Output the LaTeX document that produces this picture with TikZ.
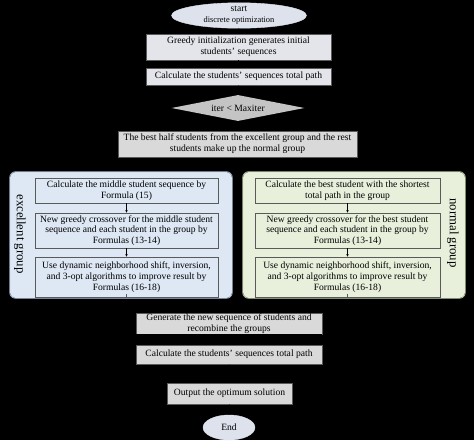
\documentclass[tikz,border=0pt]{standalone}
\usepackage{fontspec}
\setmainfont{Liberation Serif}
\usetikzlibrary{shapes.geometric,arrows.meta}
\definecolor{ellfill}{HTML}{DDE2EC}
\definecolor{topfill}{HTML}{E3E5EA}
\definecolor{diafill}{HTML}{C4C4C4}
\definecolor{grayfill}{HTML}{D9D9D9}
\definecolor{bluefill}{HTML}{DDE8F4}
\definecolor{greenfill}{HTML}{E8F0DC}
\definecolor{blueline}{HTML}{A9BCD6}
\definecolor{greenline}{HTML}{B9C9A0}
\definecolor{boxline}{HTML}{5A5A5A}
\tikzset{
  txt/.style={font=\fontsize{9.6}{10.8}\selectfont, align=center, text=black},
  flowbox/.style={txt, draw=boxline, line width=0.7pt, inner sep=0pt, rectangle},
  topbox/.style={flowbox, fill=topfill},
  graybox/.style={flowbox, fill=grayfill},
  ellnode/.style={txt, ellipse, fill=ellfill, draw=ellfill, inner sep=0pt},
  group/.style={rounded corners=6pt, line width=0.7pt, inner sep=0pt, rectangle},
  innerbox/.style={flowbox},
  grouplabel/.style={font=\fontsize{12.8}{14}\selectfont, text=black, rotate=-90},
  conn/.style={draw=black, line width=0.6pt, -{Stealth[length=3pt,width=2.6pt]}},
  inconn/.style={draw=black, line width=0.5pt, -{Stealth[length=2.6pt,width=2.4pt]}},
  dline/.style={draw=boxline, line width=0.5pt}
}
\begin{document}
\begin{tikzpicture}[x=1pt,y=-1pt]
\fill[black] (0,0) rectangle (474,440);
\useasboundingbox (0,0) rectangle (474,440);

% top flow
\node[ellnode, minimum width=135pt, minimum height=25pt] (start) at (239,15.5)
  {start\\[0pt]{\fontsize{8.4}{9}\selectfont discrete optimization}};
\node[topbox, minimum width=185pt, minimum height=26pt] (greedy) at (238.5,47)
  {Greedy initialization generates initial\\students' sequences};
\node[topbox, minimum width=185pt, minimum height=17pt] (calc1) at (238.5,76.5)
  {Calculate the students' sequences total path};
\node[txt, diamond, aspect=5.1, fill=diafill, inner sep=0pt, minimum width=133pt, minimum height=26pt] (dia) at (238,108)
  {iter < Maxiter};
\node[graybox, minimum width=239pt, minimum height=26pt] (best) at (237.5,144)
  {The best half students from the excellent group and the rest\\students make up the normal group};

% groups
\node[group, fill=bluefill, minimum width=222pt, minimum height=126pt] (lgrp) at (121,235) {};
\node[group, fill=greenfill, minimum width=222pt, minimum height=126pt] (rgrp) at (354,235) {};

\node[grouplabel] (llab) at (20,234) {excellent group};
\node[grouplabel] (rlab) at (453,233) {normal group};

\node[innerbox, fill=bluefill, minimum width=183pt, minimum height=25pt] (lb1) at (126.5,190.5)
  {Calculate the middle student sequence by\\Formula (15)};
\node[innerbox, fill=bluefill, minimum width=183pt, minimum height=35pt] (lb2) at (126.5,230.5)
  {New greedy crossover for the middle student\\sequence and each student in the group by\\Formulas (13-14)};
\node[innerbox, fill=bluefill, minimum width=183pt, minimum height=40pt] (lb3) at (126.5,277)
  {Use dynamic neighborhood shift, inversion,\\and 3-opt algorithms to improve result by\\Formulas (16-18)};

\node[innerbox, fill=greenfill, minimum width=185pt, minimum height=25pt] (rb1) at (347.5,190.5)
  {Calculate the best student with the shortest\\total path in the group};
\node[innerbox, fill=greenfill, minimum width=185pt, minimum height=35pt] (rb2) at (347.5,230.5)
  {New greedy crossover for the best student\\sequence and each student in the group by\\Formulas (13-14)};
\node[innerbox, fill=greenfill, minimum width=185pt, minimum height=40pt] (rb3) at (347.5,277)
  {Use dynamic neighborhood shift, inversion,\\and 3-opt algorithms to improve result by\\Formulas (16-18)};

% redraw group borders on top
\draw[group, draw=blueline] (lgrp.north west) rectangle (lgrp.south east);
\draw[group, draw=greenline] (rgrp.north west) rectangle (rgrp.south east);

% bottom flow
\node[graybox, minimum width=186pt, minimum height=21pt] (gen) at (229,323.5) {};
\node[txt, anchor=north, inner sep=0pt] (gentxt) at (229,313.8)
  {Generate the new sequence of students and\\recombine the groups};
\draw[line width=0.7pt, draw=black] (gen.south west) -- (gen.south east);
\node[graybox, minimum width=186pt, minimum height=19pt] (calc2) at (229,354.5)
  {Calculate the students' sequences total path};
\node[graybox, minimum width=125pt, minimum height=21pt] (out) at (229.5,393.5)
  {Output the optimum solution};
\node[ellnode, minimum width=52pt, minimum height=25pt] (endn) at (229,427.5) {End};

% connectors (black, as in the reference)
\draw[conn] (start) -- (greedy);
\draw[conn] (greedy) -- (calc1);
\draw[conn] (calc1) -- (dia);
\draw[conn] (dia) -- (best);
\draw[inconn] (lb1) -- (lb2);
\draw[inconn] (lb2) -- (lb3);
\draw[inconn] (rb1) -- (rb2);
\draw[inconn] (rb2) -- (rb3);
\draw[dline] (lb3.south) ++(0,-3) -- (lb3.south |- lgrp.south);
\draw[dline] (rb3.south) ++(0,-3) -- (rb3.south |- rgrp.south);
\draw[conn] (calc2) -- (out);
\draw[conn] (out) -- (endn);
\end{tikzpicture}
\end{document}
